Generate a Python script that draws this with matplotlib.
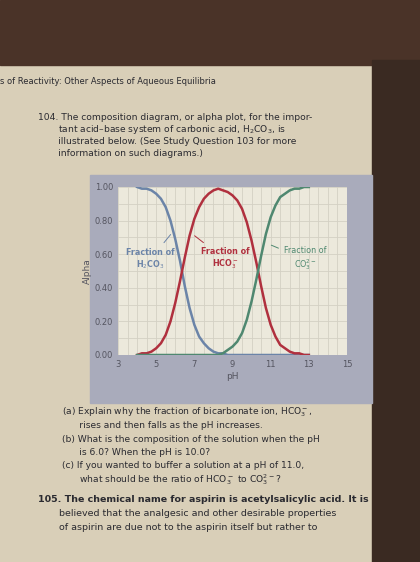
import matplotlib
matplotlib.use("Agg")
import matplotlib.pyplot as plt
from matplotlib.patches import Rectangle

ph = [4, 4.25, 4.5, 4.75, 5, 5.25, 5.5, 5.75, 6, 6.25, 6.5, 6.75, 7, 7.25, 7.5, 7.75, 8, 8.25, 8.5, 8.75,
      9, 9.25, 9.5, 9.75, 10, 10.25, 10.5, 10.75, 11, 11.25, 11.5, 11.75, 12, 12.25, 12.5, 12.75, 13]
h2co3 = [1.00, 0.99, 0.99, 0.98, 0.96, 0.93, 0.88, 0.80, 0.69, 0.56, 0.41, 0.28, 0.18, 0.11, 0.07, 0.04, 0.02, 0.01, 0.01, 0.00,
         0.00, 0.00, 0.00, 0.00, 0.00, 0.00, 0.00, 0.00, 0.00, 0.00, 0.00, 0.00, 0.00, 0.00, 0.00, 0.00, 0.00]
hco3 = [0.00, 0.01, 0.01, 0.02, 0.04, 0.07, 0.12, 0.20, 0.31, 0.44, 0.58, 0.71, 0.81, 0.88, 0.93, 0.96, 0.98, 0.99, 0.98, 0.97,
        0.95, 0.92, 0.87, 0.79, 0.68, 0.55, 0.41, 0.28, 0.18, 0.11, 0.06, 0.04, 0.02, 0.01, 0.01, 0.00, 0.00]
co3 = [0.00, 0.00, 0.00, 0.00, 0.00, 0.00, 0.00, 0.00, 0.00, 0.00, 0.00, 0.00, 0.00, 0.00, 0.00, 0.00, 0.00, 0.00, 0.01, 0.03,
       0.05, 0.08, 0.13, 0.21, 0.32, 0.45, 0.59, 0.72, 0.82, 0.89, 0.94, 0.96, 0.98, 0.99, 0.99, 1.00, 1.00]
xticks = [3, 5, 7, 9, 11, 13, 15]
yticks = [0.0, 0.2, 0.4, 0.6, 0.8, 1.0]

fig = plt.figure(figsize=(4.2, 5.62), dpi=100)
fig.patch.set_facecolor("#d9cfb8")
bg = fig.add_axes([0, 0, 1, 1]); bg.axis("off"); bg.set_xlim(0, 420); bg.set_ylim(562, 0)
bg.add_patch(Rectangle((0, 0), 420, 65, color="#4a3328"))
bg.add_patch(Rectangle((372, 60), 48, 502, color="#3a2a22"))
bg.add_patch(Rectangle((90, 175), 282, 228, color="#a9abbb"))
tc = "#2a2a30"
bg.text(0, 82, "s of Reactivity: Other Aspects of Aqueous Equilibria", fontsize=6, color=tc, va="center")
lines = ["104. The composition diagram, or alpha plot, for the impor-",
         "       tant acid–base system of carbonic acid, H$_2$CO$_3$, is",
         "       illustrated below. (See Study Question 103 for more",
         "       information on such diagrams.)"]
for i, l in enumerate(lines):
    bg.text(38, 118 + i * 12, l, fontsize=6.6, color=tc, va="center")
qs = ["(a) Explain why the fraction of bicarbonate ion, HCO$_3^-$,",
      "      rises and then falls as the pH increases.",
      "(b) What is the composition of the solution when the pH",
      "      is 6.0? When the pH is 10.0?",
      "(c) If you wanted to buffer a solution at a pH of 11.0,",
      "      what should be the ratio of HCO$_3^-$ to CO$_3^{2-}$?"]
for i, l in enumerate(qs):
    bg.text(62, 412 + i * 13.5, l, fontsize=6.6, color=tc, va="center")
q105 = ["105. The chemical name for aspirin is acetylsalicylic acid. It is",
        "       believed that the analgesic and other desirable properties",
        "       of aspirin are due not to the aspirin itself but rather to"]
for i, l in enumerate(q105):
    bg.text(38, 500 + i * 14, l, fontsize=6.8, color=tc, va="center", fontweight="bold" if i == 0 else "normal")

ax = fig.add_axes([118 / 420, 1 - 355 / 562, (347 - 118) / 420, (355 - 187) / 562])
ax.set_facecolor("#ece9dc")
ax.plot(ph, h2co3, color="#6b84a8", lw=1.8)
ax.plot(ph, hco3, color="#b0303e", lw=1.8)
ax.plot(ph, co3, color="#4f8870", lw=1.8)
ax.set_xlim(3, 15); ax.set_ylim(0, 1.0)
ax.set_xticks(xticks); ax.set_yticks(yticks)
ax.set_yticklabels([f"{v:.2f}" for v in yticks])
ax.set_xticks([x * 0.5 + 3 for x in range(25)], minor=True)
ax.set_yticks([y * 0.1 for y in range(11)], minor=True)
ax.grid(True, which="both", color="#d4d0c4", lw=0.6)
for s in ax.spines.values(): s.set_visible(False)
ax.tick_params(length=0, labelsize=6, colors="#555560", which="both")
ax.set_xlabel("pH", fontsize=6.5, color="#555560", labelpad=2)
ax.set_ylabel("Alpha", fontsize=6.5, color="#555560", labelpad=2)
ax.annotate("Fraction of\nH$_2$CO$_3$", xy=(5.85, 0.73), xytext=(4.7, 0.57), fontsize=5.8, color="#6b84a8",
            ha="center", va="center", fontweight="bold", arrowprops=dict(arrowstyle="-", color="#6b84a8", lw=0.7))
ax.annotate("Fraction of\nHCO$_3^-$", xy=(6.9, 0.72), xytext=(8.6, 0.57), fontsize=5.8, color="#b0303e",
            ha="center", va="center", fontweight="bold", arrowprops=dict(arrowstyle="-", color="#b0303e", lw=0.7))
ax.annotate("Fraction of\nCO$_3^{2-}$", xy=(10.9, 0.66), xytext=(12.8, 0.57), fontsize=5.8, color="#4f8870",
            ha="center", va="center", arrowprops=dict(arrowstyle="-", color="#4f8870", lw=0.7))
fig.savefig("out.png", dpi=100, facecolor=fig.get_facecolor())
